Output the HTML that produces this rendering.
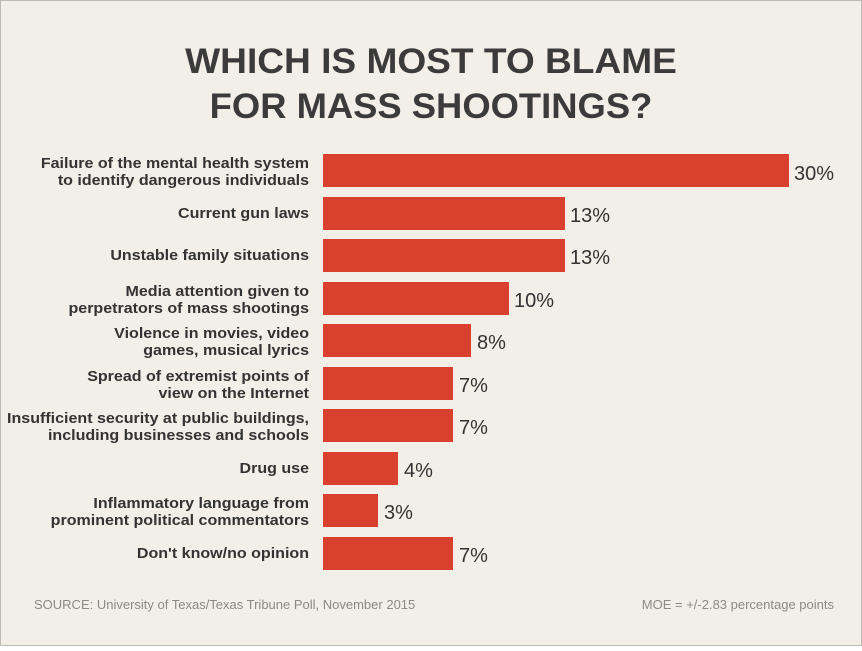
<!DOCTYPE html>
<html><head><meta charset="utf-8"><style>
html,body{margin:0;padding:0;background:#fff}
</style></head><body>
<svg width="862" height="646" xmlns="http://www.w3.org/2000/svg" font-family="Liberation Sans, sans-serif">
<rect x="0" y="0" width="862" height="646" fill="#f2efe8"/>
<rect x="0.5" y="0.5" width="861" height="645" fill="none" stroke="#bdbab3"/>
<g fill="#3b3b3b" font-weight="bold" font-size="35" text-anchor="middle">
<text x="431" y="73" transform="translate(431 0) scale(1.06 1) translate(-431 0)">WHICH IS MOST TO BLAME</text>
<text x="431" y="118" transform="translate(431 0) scale(1.04 1) translate(-431 0)">FOR MASS SHOOTINGS?</text>
</g>
<g fill="#d9412e">
<rect x="323" y="154" width="466" height="33"/>
<rect x="323" y="197" width="242" height="33"/>
<rect x="323" y="239" width="242" height="33"/>
<rect x="323" y="282" width="186" height="33"/>
<rect x="323" y="324" width="148" height="33"/>
<rect x="323" y="367" width="130" height="33"/>
<rect x="323" y="409" width="130" height="33"/>
<rect x="323" y="452" width="75" height="33"/>
<rect x="323" y="494" width="55" height="33"/>
<rect x="323" y="537" width="130" height="33"/>
</g>
<g fill="#333" font-size="20">
<text x="794" y="180">30%</text>
<text x="570" y="222">13%</text>
<text x="570" y="264">13%</text>
<text x="514" y="307">10%</text>
<text x="477" y="349">8%</text>
<text x="459" y="392">7%</text>
<text x="459" y="434">7%</text>
<text x="404" y="477">4%</text>
<text x="384" y="519">3%</text>
<text x="459" y="562">7%</text>
</g>
<g fill="#333" font-size="15" font-weight="bold" text-anchor="end" transform="translate(309 0) scale(1.07 1)">
<text x="0" y="168">Failure of the mental health system</text>
<text x="0" y="185">to identify dangerous individuals</text>
<text x="0" y="218">Current gun laws</text>
<text x="0" y="260">Unstable family situations</text>
<text x="0" y="296">Media attention given to</text>
<text x="0" y="313">perpetrators of mass shootings</text>
<text x="0" y="338">Violence in movies, video</text>
<text x="0" y="355">games, musical lyrics</text>
<text x="0" y="381">Spread of extremist points of</text>
<text x="0" y="398">view on the Internet</text>
<text x="0" y="423">Insufficient security at public buildings,</text>
<text x="0" y="440">including businesses and schools</text>
<text x="0" y="473">Drug use</text>
<text x="0" y="508">Inflammatory language from</text>
<text x="0" y="525">prominent political commentators</text>
<text x="0" y="558">Don't know/no opinion</text>
</g>
<g fill="#8a8a86" font-size="13">
<text x="34" y="609">SOURCE: University of Texas/Texas Tribune Poll, November 2015</text>
<text x="834" y="609" text-anchor="end">MOE = +/-2.83 percentage points</text>
</g>
</svg>
</body></html>
